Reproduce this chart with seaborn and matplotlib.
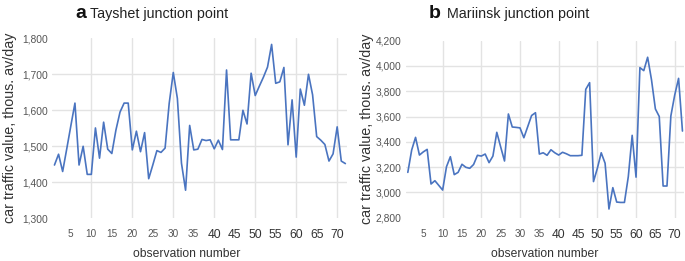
import matplotlib
matplotlib.use('Agg')
import matplotlib.pyplot as plt
import numpy as np
import pandas as pd
import seaborn as sns


# Observation numbers and daily car traffic (thous. av/day)
obs = list(range(1, 73))

tayshet = [1448, 1478, 1430, 1493, 1557, 1620, 1448, 1500, 1422, 1422,
           1551, 1467, 1567, 1492, 1480, 1545, 1595, 1620, 1620, 1490,
           1542, 1485, 1538, 1410, 1448, 1488, 1483, 1495, 1619, 1705,
           1633, 1453, 1378, 1558, 1490, 1492, 1519, 1516, 1518, 1493,
           1517, 1491, 1712, 1518, 1518, 1518, 1600, 1562, 1703, 1641,
           1667, 1692, 1720, 1783, 1675, 1679, 1719, 1504, 1629, 1470,
           1659, 1614, 1700, 1643, 1527, 1517, 1505, 1459, 1479, 1554,
           1459, 1452]

mariinsk = [3158, 3335, 3435, 3295, 3320, 3340, 3066, 3092, 3055, 3018,
            3203, 3282, 3140, 3158, 3222, 3198, 3190, 3220, 3293, 3287,
            3303, 3235, 3287, 3475, 3360, 3248, 3620, 3517, 3514, 3510,
            3432, 3520, 3608, 3630, 3303, 3313, 3293, 3337, 3313, 3295,
            3317, 3305, 3290, 3290, 3290, 3293, 3815, 3868, 3085, 3190,
            3313, 3230, 2868, 3037, 2923, 2920, 2920, 3124, 3451, 3120,
            3987, 3963, 4069, 3890, 3660, 3600, 3050, 3050, 3604, 3770,
            3902, 3485]

xticks = list(range(5, 75, 5))
yticks_a = [1300, 1400, 1500, 1600, 1700, 1800]
yticks_b = [2800, 3000, 3200, 3400, 3600, 3800, 4000, 4200]

sns.set_style('white')
plt.rcParams['font.family'] = ['Liberation Sans', 'DejaVu Sans']

W, H = 685, 261
fig = plt.figure(figsize=(W / 100, H / 100), dpi=100)

line_color = '#4a74c0'
grid_color = '#e3e3e3'
tick_color = '#555555'


def make_panel(rect, values, yticks, letter, title, title_x, title_gap,
               ylabel_x, xlabel_x):
    left, top, right, bottom = rect
    ax = fig.add_axes([left / W, 1 - bottom / H, (right - left) / W, (bottom - top) / H])
    df = pd.DataFrame({'obs': obs, 'val': values})
    sns.lineplot(data=df, x='obs', y='val', ax=ax, color=line_color,
                 linewidth=1.2, zorder=3)
    ax.set_xlim(0.4, 72.4)
    ax.set_ylim(yticks[0], yticks[-1])
    ax.grid(False)
    # gridlines: vertical every 10 obs, horizontal only inside the frame
    for v in range(10, 80, 10):
        ax.axvline(v, color=grid_color, lw=1.0, zorder=0)
    for v in yticks[1:-1]:
        ax.axhline(v, color=grid_color, lw=1.0, zorder=0)
    for s in ax.spines.values():
        s.set_visible(False)

    ax.set_xticks(xticks)
    ax.set_xticklabels([str(t) for t in xticks])
    for t, lab in zip(xticks, ax.get_xticklabels()):
        if t >= 40:
            lab.set_fontsize(8.7)
            lab.set_color('#333333')
        else:
            lab.set_fontsize(7.2)
            lab.set_color(tick_color)
    ax.set_yticks(yticks)
    ax.set_yticklabels(['{:,}'.format(t) for t in yticks], fontsize=7.4,
                       color=tick_color)
    ax.tick_params(axis='both', length=0)
    ax.tick_params(axis='x', pad=8)
    ax.tick_params(axis='y', pad=3)

    ax.set_xlabel('observation number', fontsize=8.7, color='#333333')
    ax.xaxis.set_label_coords((xlabel_x - left) / (right - left),
                              (bottom - 254) / (bottom - top), transform=ax.transAxes)
    ax.xaxis.label.set_va('center')
    ax.set_ylabel('car traffic value, thous. av/day', fontsize=10.3, color='#333333')
    ax.yaxis.set_label_coords((ylabel_x - left) / (right - left), 0.5,
                              transform=ax.transAxes)
    ax.yaxis.label.set_va('center')

    fig.text(title_x / W, 1 - 14 / H, letter, fontsize=14, fontweight='bold',
             ha='left', va='center', color='#111111')
    fig.text((title_x + title_gap) / W, 1 - 14 / H, title, fontsize=10.3,
             ha='left', va='center', color='#222222')
    return ax


make_panel((52, 38.3, 347, 218.3), tayshet, yticks_a, 'a',
           'Tayshet junction point', 75, 15, 10.5, 186.5)
make_panel((405.5, 40.7, 684, 217.6), mariinsk, yticks_b, 'b',
           'Mariinsk junction point', 429, 18, 367.5, 545)

fig.savefig('out.png', dpi=100)
